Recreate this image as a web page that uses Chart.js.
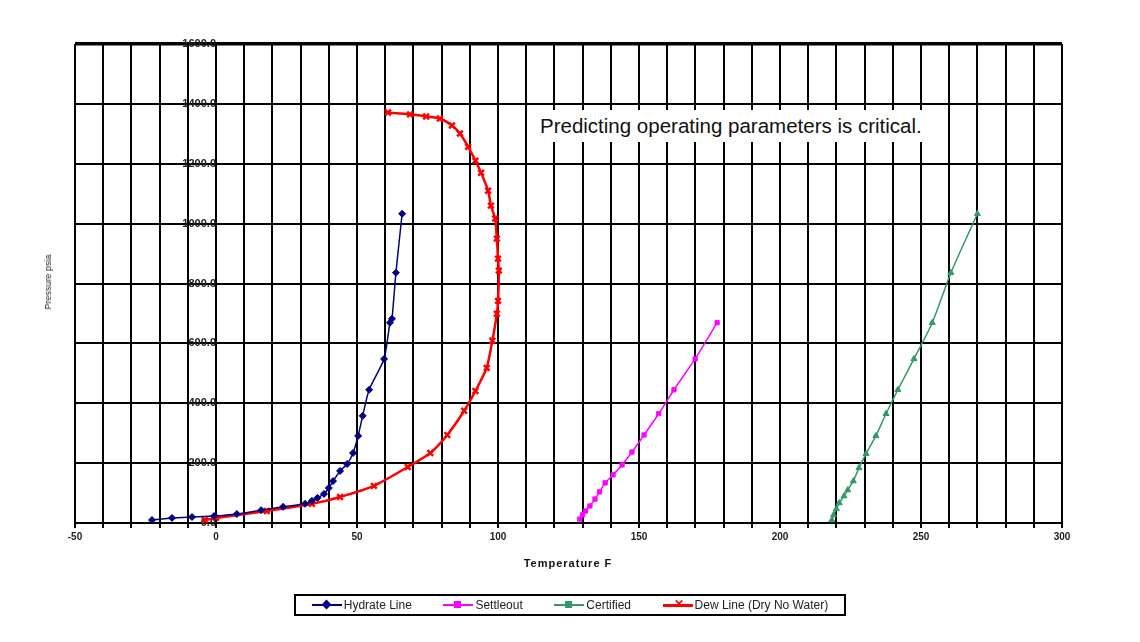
<!DOCTYPE html>
<html><head><meta charset="utf-8">
<script src="https://cdn.jsdelivr.net/npm/chart.js@4"></script>
<style>
body{margin:0;background:#fff;font-family:"Liberation Sans",Arial,sans-serif}
#wrap{position:relative;width:1140px;height:642px}
#note{position:absolute;left:530px;top:110px;padding:4px 10px;background:#fff;font-size:20.5px;color:#111}
#ytitle{position:absolute;left:48px;top:282px;transform:translate(-50%,-50%) rotate(-90deg);font-size:9px;color:#222;white-space:nowrap}
#xtitle{position:absolute;left:568px;top:557px;font-size:11px;font-weight:bold;color:#111;transform:translateX(-50%);letter-spacing:1px}
#legend{position:absolute;left:294px;top:594px;width:552px;height:22px;border:2px solid #000;box-sizing:border-box;display:flex;align-items:center;justify-content:space-around;font-size:12px;color:#222}
.it{display:flex;align-items:center;gap:2px}
.ln{position:relative;width:30px;height:2px}
.mk{position:absolute;left:11px;top:-3px;width:7px;height:7px}
</style></head><body>
<div id="wrap"><canvas id="c" width="1140" height="642"></canvas>
<div id="note">Predicting operating parameters is critical.</div>
<div id="ytitle">Pressure psia</div>
<div id="xtitle">Temperature F</div>
<div id="legend">
<div class="it"><div class="ln" style="background:#000080"><div class="mk" style="background:#000080;transform:rotate(45deg)"></div></div>Hydrate Line</div>
<div class="it"><div class="ln" style="background:#ff00ff"><div class="mk" style="background:#ff00ff"></div></div>Settleout</div>
<div class="it"><div class="ln" style="background:#339966"><div class="mk" style="background:#339966"></div></div>Certified</div>
<div class="it"><div class="ln" style="background:#ff0000;height:3px"><div class="mk" style="color:#f00;font-weight:bold;top:-7px;font-size:12px;width:auto;height:auto">✕</div></div>Dew Line (Dry No Water)</div>
</div></div>
<script>
const hydrateT=[-22.7,-15.6,-8.5,-0.7,7.4,16,23.8,31.6,34,36,38.3,40,41.5,44,46.5,48.6,50.4,52,54.3,59.6,61.7,62.4,63.8,66];
const hydrateP=[10,17,20,23,30,43,54,64,74,84,97,117,140,174,197,234,291,358,445,548,669,682,836,1033];
const settleT=[129,130,131,132.6,134.4,136,138,140.8,144,147.5,151.8,157,162.4,169.9,177.7];
const settleP=[13,27,40,57,80,104,134,161,194,237,294,365,445,548,669];
const certT=[218.4,219,220,221,222.7,224,226,228,230.5,234,237.6,241.8,247.5,254,260.6,270];
const certP=[10,27,47,67,90,110,140,184,231,291,365,445,548,669,836,1033];
const dewT=[-4,0,18,34,44,56,68,76,82,88,92,96,98,99.6,100,100.3,100,99.6,99,97.5,96.5,94,92,89.4,86.5,83.7,79.4,74.5,68.8,61];
const dewP=[10,17,40,64,87,124,187,234,294,375,441,518,609,699,742,843,883,950,1017,1060,1110,1170,1210,1257,1301,1328,1351,1358,1365,1371];
const xy=(a,b)=>a.map((v,i)=>({x:v,y:b[i]}));
const ds=(label,d,color,style,r,w)=>({label,data:d,borderColor:color,backgroundColor:color,pointStyle:style,pointRadius:r,pointBorderWidth:style==='crossRot'?2.5:1,borderWidth:w,showLine:true,tension:0.2});
new Chart(document.getElementById('c'),{type:'scatter',
data:{datasets:[
ds('Hydrate Line',xy(hydrateT,hydrateP),'#000080','rectRot',3.5,1.5),
ds('Settleout',xy(settleT,settleP),'#ff00ff','rect',3,1.5),
ds('Certified',xy(certT,certP),'#339966','triangle',3.5,1.5),
ds('Dew Line (Dry No Water)',xy(dewT,dewP),'#ff0000','crossRot',4,2.5)]},
options:{responsive:false,animation:false,
layout:{padding:{left:75,top:44,right:78,bottom:96}},
plugins:{legend:{display:false},tooltip:{enabled:false}},
scales:{
x:{type:'linear',min:-50,max:300,
 grid:{color:'#000',lineWidth:2,drawTicks:true,tickLength:5},
 border:{color:'#000',width:2},
 ticks:{stepSize:10,autoSkip:false,maxRotation:0,color:'#222',font:{size:10,weight:'bold'},callback:v=>v%50===0?String(v):''}},
y:{type:'linear',min:0,max:1600,position:{x:0},
 grid:{color:ctx=>'#000',lineWidth:ctx=>ctx.tick&&ctx.tick.value===1600?3.5:2,drawTicks:true,tickLength:4},
 border:{color:'#000',width:2},
 ticks:{stepSize:200,color:'#222',font:{size:11,weight:'bold'},padding:7,callback:v=>v.toFixed(1)}}
}}});
</script></body></html>
